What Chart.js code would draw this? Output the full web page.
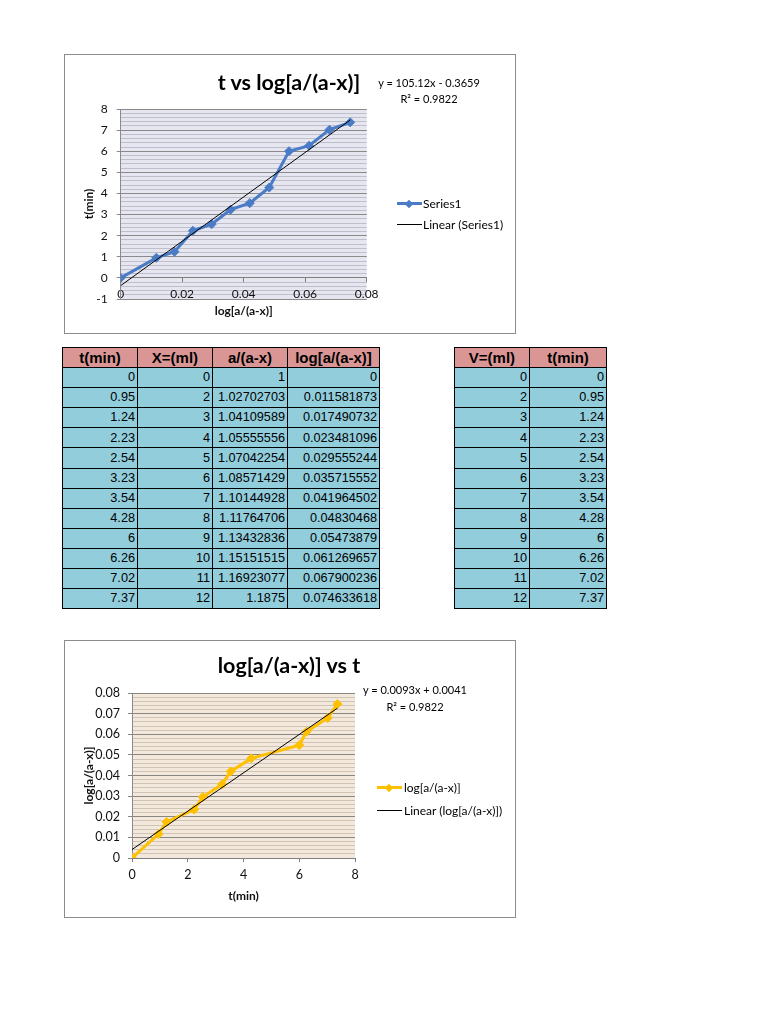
<!DOCTYPE html>
<html>
<head>
<meta charset="utf-8">
<script src="https://cdn.jsdelivr.net/npm/chart.js@4.4.1/dist/chart.umd.min.js"></script>
<style>
  html,body{margin:0;padding:0;background:#fff;}
  body{width:768px;height:1024px;position:relative;overflow:hidden;font-family:Lato,"Open Sans",sans-serif;}
  .box{position:absolute;box-sizing:border-box;border:1px solid #8c8c8c;background:#fff;}
  .box canvas{position:absolute;left:0;top:0;}
  .c{position:absolute;transform:translate(-50%,-50%);white-space:nowrap;color:#000;}
  .l{position:absolute;transform:translateY(-50%);white-space:nowrap;color:#000;font-size:12px;}
  .title{font-weight:bold;font-size:21.5px;}
  .eq{font-size:11px;}
  .lg-line{position:absolute;height:0;}
  .lg-dia{position:absolute;width:6px;height:6px;transform:translate(-50%,-50%) rotate(45deg);}
  table{position:absolute;border-collapse:collapse;font-family:"Liberation Sans",Arial,sans-serif;font-size:12.7px;table-layout:fixed;}
  td,th{border:1px solid #000;height:20.1px;padding:0 2px;box-sizing:border-box;line-height:1;}
  th{background:#da9694;font-weight:bold;text-align:center;font-size:15px;}
  td{background:#92cddc;text-align:right;}
</style>
</head>
<body>

<div class="box" id="box1" style="left:64px;top:54px;width:452px;height:280px;">
  <canvas id="ch1" width="450" height="278"></canvas>
  <div class="c title" style="left:224px;top:27px;">t vs log[a/(a-x)]</div>
  <div class="c eq" id="eq1a" style="left:364px;top:27px;"></div>
  <div class="c eq" id="eq1b" style="left:364px;top:43px;"></div>
  <div class="lg-line" style="left:332px;width:25px;top:147px;border-top:3px solid #4a7bc6;"></div>
  <div class="lg-dia" style="left:344px;top:148.5px;background:#4a7bc6;"></div>
  <div class="l" style="left:358px;top:148px;">Series1</div>
  <div class="lg-line" style="left:332px;width:25px;top:169px;border-top:1px solid #000;"></div>
  <div class="l" style="left:358px;top:169px;">Linear (Series1)</div>
</div>

<div class="box" id="box2" style="left:64px;top:640px;width:452px;height:278px;">
  <canvas id="ch2" width="450" height="276"></canvas>
  <div class="c title" style="left:224px;top:24px;">log[a/(a-x)] vs t</div>
  <div class="c eq" id="eq2a" style="left:350px;top:48px;"></div>
  <div class="c eq" id="eq2b" style="left:350px;top:65px;"></div>
  <div class="lg-line" style="left:312px;width:25px;top:145px;border-top:3px solid #ffc000;"></div>
  <div class="lg-dia" style="left:324px;top:146.5px;background:#ffc000;"></div>
  <div class="l" style="left:339px;top:146px;">log[a/(a-x)]</div>
  <div class="lg-line" style="left:312px;width:25px;top:169px;border-top:1px solid #000;"></div>
  <div class="l" style="left:339px;top:169px;">Linear (log[a/(a-x)])</div>
</div>

<table id="t1" style="left:62px;top:347px;width:317px;">
  <colgroup><col style="width:75px"><col style="width:75px"><col style="width:75px"><col style="width:92px"></colgroup>
  <thead><tr id="t1h"></tr></thead>
  <tbody id="t1b"></tbody>
</table>

<table id="t2" style="left:454px;top:347px;width:152px;">
  <colgroup><col style="width:75px"><col style="width:77px"></colgroup>
  <thead><tr id="t2h"></tr></thead>
  <tbody id="t2b"></tbody>
</table>

<script>
// ---- data ----
const tMin   = [0, 0.95, 1.24, 2.23, 2.54, 3.23, 3.54, 4.28, 6, 6.26, 7.02, 7.37];
const xMl    = [0, 2, 3, 4, 5, 6, 7, 8, 9, 10, 11, 12];
const ratio  = [1, 1.02702703, 1.04109589, 1.05555556, 1.07042254, 1.08571429, 1.10144928, 1.11764706, 1.13432836, 1.15151515, 1.16923077, 1.1875];
const logVal = [0, 0.011581873, 0.017490732, 0.023481096, 0.029555244, 0.035715552, 0.041964502, 0.04830468, 0.05473879, 0.061269657, 0.067900236, 0.074633618];
const headers1 = ['t(min)', 'X=(ml)', 'a/(a-x)', 'log[a/(a-x)]'];
const headers2 = ['V=(ml)', 't(min)'];
const fitTop    = [105.12, -0.3659, 0.9822];   // slope, intercept, R²
const fitBottom = [0.0093, 0.0041, 0.9822];
const topXTicks = [0, 0.08, 0.02];   // min, max, step
const topYTicks = [-1, 8, 1, 0.2];   // min, max, step, minor step
const botXTicks = [0, 8, 2];
const botYTicks = [0, 0.08, 0.01, 0.002];

// ---- tables ----
function fillTable(headId, bodyId, headers, cols) {
  const h = document.getElementById(headId);
  headers.forEach(t => { const th = document.createElement('th'); th.textContent = t; h.appendChild(th); });
  const b = document.getElementById(bodyId);
  for (let i = 0; i < cols[0].length; i++) {
    const tr = document.createElement('tr');
    cols.forEach(c => { const td = document.createElement('td'); td.textContent = String(c[i]); tr.appendChild(td); });
    b.appendChild(tr);
  }
}
fillTable('t1h', 't1b', headers1, [tMin, xMl, ratio, logVal]);
fillTable('t2h', 't2b', headers2, [xMl, tMin]);

// ---- equation labels ----
function fmtEq(f) {
  const s = f[1] < 0 ? ' - ' : ' + ';
  return 'y = ' + f[0] + 'x' + s + Math.abs(f[1]);
}
document.getElementById('eq1a').textContent = fmtEq(fitTop);
document.getElementById('eq1b').textContent = 'R\u00b2 = ' + fitTop[2];
document.getElementById('eq2a').textContent = fmtEq(fitBottom);
document.getElementById('eq2b').textContent = 'R\u00b2 = ' + fitBottom[2];

// ---- chart helpers ----
const bgPlugin = {
  id: 'plotBg',
  beforeDraw(chart, args, opts) {
    const a = chart.chartArea, ctx = chart.ctx;
    ctx.save(); ctx.fillStyle = opts.color; ctx.fillRect(a.left, a.top, a.right - a.left, a.bottom - a.top); ctx.restore();
  }
};
Chart.register(bgPlugin);
const FONT = 'Lato, "Open Sans", sans-serif';
const TICK1 = { family: FONT, size: 12 };
const TICK2 = { family: FONT, size: 12.5 };
const ATITLE = { family: FONT, size: 12, weight: 'bold' };

function trend(xs, f) {
  const lo = Math.min(...xs), hi = Math.max(...xs);
  return [{x: lo, y: f[0] * lo + f[1]}, {x: hi, y: f[0] * hi + f[1]}];
}
function pts(xs, ys) { return xs.map((x, i) => ({x, y: ys[i]})); }

// ---- top chart: t vs log ----
new Chart(document.getElementById('ch1'), {
  type: 'scatter',
  data: { datasets: [
    { label: 'Linear (Series1)', data: trend(logVal, fitTop), showLine: true, borderColor: '#000', borderWidth: 1, pointRadius: 0, order: 0 },
    { label: 'Series1', data: pts(logVal, tMin), showLine: true, borderColor: '#4a7bc6', backgroundColor: '#4a7bc6', borderWidth: 3, pointStyle: 'rectRot', pointRadius: 4.5, pointBorderWidth: 1, order: 1 }
  ]},
  options: {
    responsive: false, animation: false, devicePixelRatio: 1,
    layout: { padding: { left: 17.4, right: 148.3, top: 54, bottom: 34 } },
    plugins: { legend: { display: false }, tooltip: { enabled: false }, plotBg: { color: '#e6e6f1' } },
    scales: {
      x: { type: 'linear', position: { y: 0 }, min: topXTicks[0], max: topXTicks[1],
           ticks: { stepSize: topXTicks[2], padding: 5, color: '#111', font: TICK1 },
           grid: { drawOnChartArea: false, tickLength: 4, color: '#7f7f7f' }, border: { color: '#7f7f7f' },
           title: { display: true, text: 'log[a/(a-x)]', padding: 0, color: '#111', font: ATITLE },
           afterFit(s) { s.height = 40; } },
      y: { type: 'linear', position: 'left', min: topYTicks[0], max: topYTicks[1],
           ticks: { stepSize: topYTicks[2], padding: 9, color: '#111', font: TICK1 },
           grid: { color: '#8a8a8a', tickLength: 4 }, border: { color: '#8a8a8a' },
           title: { display: true, text: 't(min)', padding: 0, color: '#111', font: ATITLE },
           afterFit(s) { s.width = 38.3; } },
      yMinor: { type: 'linear', position: 'left', min: topYTicks[0], max: topYTicks[1],
           ticks: { display: false, stepSize: topYTicks[3], autoSkip: false },
           grid: { color: '#bfbfcc', drawTicks: false, z: -2 }, border: { display: false },
           afterFit(s) { s.width = 0; } }
    }
  }
});

// ---- bottom chart: log vs t ----
new Chart(document.getElementById('ch2'), {
  type: 'scatter',
  data: { datasets: [
    { label: 'Linear (log[a/(a-x)])', data: trend(tMin, fitBottom), showLine: true, borderColor: '#000', borderWidth: 1, pointRadius: 0, order: 0 },
    { label: 'log[a/(a-x)]', data: pts(tMin, logVal), showLine: true, borderColor: '#ffc000', backgroundColor: '#ffc000', borderWidth: 3, pointStyle: 'rectRot', pointRadius: 4.5, pointBorderWidth: 1, order: 1 }
  ]},
  options: {
    responsive: false, animation: false, devicePixelRatio: 1,
    layout: { padding: { left: 17.4, right: 160, top: 52, bottom: 13.4 } },
    plugins: { legend: { display: false }, tooltip: { enabled: false }, plotBg: { color: '#f3e8dc' } },
    scales: {
      x: { type: 'linear', position: 'bottom', min: botXTicks[0], max: botXTicks[1],
           ticks: { stepSize: botXTicks[2], padding: 5.5, color: '#111', font: TICK2 },
           grid: { drawOnChartArea: false, tickLength: 4, color: '#7f7f7f' }, border: { color: '#7f7f7f' },
           title: { display: true, text: 't(min)', padding: 0, color: '#111', font: ATITLE },
           afterFit(s) { s.height = 45.6; } },
      y: { type: 'linear', position: 'left', min: botYTicks[0], max: botYTicks[1],
           ticks: { stepSize: botYTicks[2], padding: 8, color: '#111', font: TICK2 },
           grid: { color: '#8a8580', tickLength: 4 }, border: { color: '#8a8a8a' },
           title: { display: true, text: 'log[a/(a-x)]', padding: 0, color: '#111', font: ATITLE },
           afterFit(s) { s.width = 49.6; } },
      yMinor: { type: 'linear', position: 'left', min: botYTicks[0], max: botYTicks[1],
           ticks: { display: false, stepSize: botYTicks[3], autoSkip: false },
           grid: { color: '#d2c4b4', drawTicks: false, z: -2 }, border: { display: false },
           afterFit(s) { s.width = 0; } }
    }
  }
});
</script>
</body>
</html>
